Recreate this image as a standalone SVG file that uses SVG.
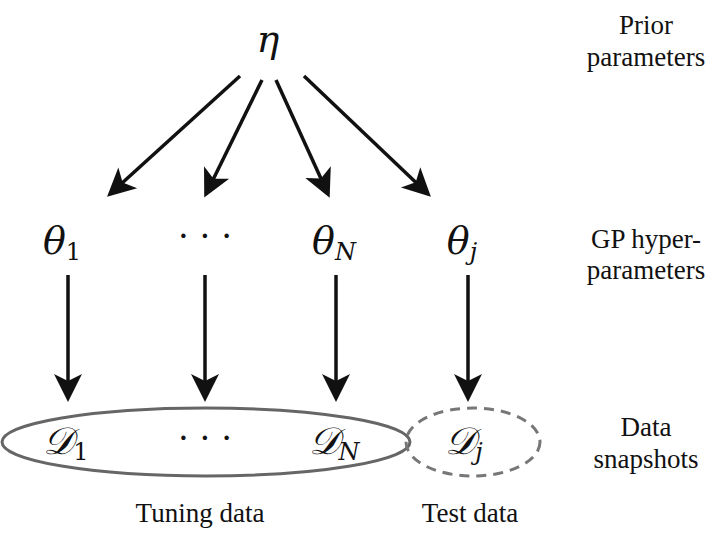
<svg xmlns="http://www.w3.org/2000/svg" width="706" height="537" viewBox="0 0 706 537">
<style>
.t{font-size:27px;fill:#111;text-anchor:middle}
.m{font-style:italic;font-size:38px;fill:#111;text-anchor:middle}
.s{font-size:24px;font-style:normal}
.si{font-size:24px;font-style:italic}
.c{font-size:34px;fill:#111;text-anchor:middle}
.e{stroke:#111;stroke-width:3.5;fill:none;marker-end:url(#ah)}
</style>
<defs>
<marker id="ah" markerWidth="20" markerHeight="20" refX="0" refY="0" orient="auto" markerUnits="userSpaceOnUse" viewBox="-10 -10 20 20" overflow="visible">
<path d="M-24,-14 L4,0 L-24,14 L-17,0 Z" fill="#111"/>
</marker>
</defs>
<g id="connectors">
<line class="e" x1="240" y1="76" x2="110" y2="194"/>
<line class="e" x1="262" y1="80" x2="206" y2="194"/>
<line class="e" x1="276" y1="80" x2="328" y2="194"/>
<line class="e" x1="304" y1="76" x2="428" y2="194"/>
<line class="e" x1="68" y1="275" x2="68" y2="398"/>
<line class="e" x1="205" y1="275" x2="205" y2="398"/>
<line class="e" x1="336" y1="275" x2="336" y2="398"/>
<line class="e" x1="468" y1="275" x2="468" y2="398"/>
</g>
<g font-family="DejaVu Serif, serif">
<g id="eta"><text class="m" x="268" y="52" font-size="52">η</text></g>
<g id="theta1"><text class="m" x="62" y="254">θ<tspan class="s" dy="6">1</tspan></text></g>
<g id="dots1"><text class="c" x="205" y="248">· · ·</text></g>
<g id="thetaN"><text class="m" x="334" y="254">θ<tspan class="si" dy="6">N</tspan></text></g>
<g id="thetaj"><text class="m" x="462" y="254">θ<tspan class="si" dy="6">j</tspan></text></g>
<g id="tuning">
<ellipse cx="206" cy="442" rx="204" ry="34" fill="none" stroke="#666" stroke-width="3"/>
<text class="m" x="66" y="454" font-style="normal">𝒟<tspan class="s" dy="6">1</tspan></text>
<text class="c" x="205" y="450">· · ·</text>
<text class="m" x="334" y="454" font-style="normal">𝒟<tspan class="si" dy="6">N</tspan></text>
</g>
<g id="test">
<ellipse cx="473" cy="442" rx="67" ry="34" fill="none" stroke="#777" stroke-width="3" stroke-dasharray="10,7"/>
<text class="m" x="464" y="454" font-style="normal">𝒟<tspan class="si" dy="6">j</tspan></text>
</g>
</g>
<g id="labels" font-family="Liberation Serif, Times New Roman, serif">
<text class="t" x="646" y="34">Prior</text>
<text class="t" x="646" y="66">parameters</text>
<text class="t" x="646" y="248">GP hyper-</text>
<text class="t" x="646" y="279">parameters</text>
<text class="t" x="646" y="436">Data</text>
<text class="t" x="646" y="468">snapshots</text>
<text class="t" x="200" y="522">Tuning data</text>
<text class="t" x="470" y="522">Test data</text>
</g>
</svg>
